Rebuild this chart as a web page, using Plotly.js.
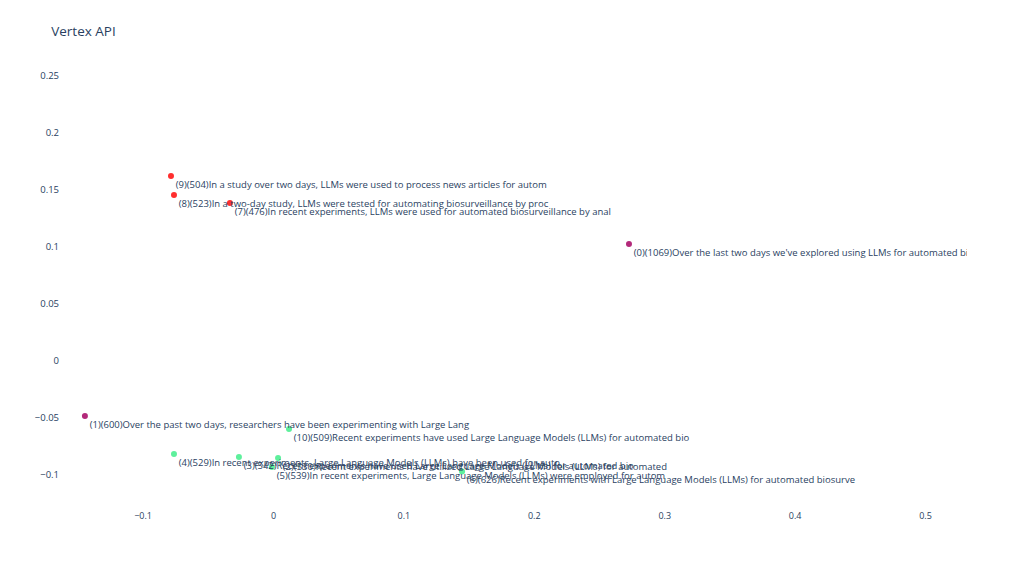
<!DOCTYPE html>
<html>
<head>
<meta charset="utf-8">
<script src="https://cdn.plot.ly/plotly-3.0.1.min.js"></script>
<style>
  html, body { margin: 0; padding: 0; background: white; }
  #myDiv { width: 1024px; height: 571px; }
</style>
</head>
<body>
<div id="myDiv"></div>
<script>
// embedding coordinates
const xs = [0.2726, -0.1446, 0.0035, -0.0265, -0.0763, -0.0012, 0.1446, -0.0334, -0.0763, -0.0786, 0.0119];
const ys = [0.1026, -0.0482, -0.0851, -0.0842, -0.0816, -0.0930, -0.0970, 0.1386, 0.1456, 0.1623, -0.0596];
const lengths = [1069, 600, 530, 542, 529, 539, 626, 476, 523, 504, 509];
const clusters = [0, 0, 1, 1, 1, 1, 1, 2, 2, 2, 1];
const snippets = [
    "Over the last two days we've explored using LLMs for automated biosurveillance",
    "Over the past two days, researchers have been experimenting with Large Language Models",
    "Recent experiments have utilized Large Language Models (LLMs) for automated biosurveillance",
    "Recent experiments have used Large Language Models (LLMs) for automated biosurveillance",
    "In recent experiments, Large Language Models (LLMs) have been used for automated biosurveillance",
    "In recent experiments, Large Language Models (LLMs) were employed for automated biosurveillance",
    "Recent experiments with Large Language Models (LLMs) for automated biosurveillance",
    "In recent experiments, LLMs were used for automated biosurveillance by analyzing",
    "In a two-day study, LLMs were tested for automating biosurveillance by processing",
    "In a study over two days, LLMs were used to process news articles for automated",
    "Recent experiments have used Large Language Models (LLMs) for automated biosurveillance",
];
const clusterColors = ["#b3297a", "#5ef09c", "#ff2e2e"];

const labels = snippets.map((s, i) => `(${i})(${lengths[i]})${s.slice(0, 75)}`);

const data = [{
    type: "scatter",
    mode: "markers+text",
    x: xs,
    y: ys,
    text: labels,
    textposition: "bottom right",
    textfont: { size: 9.5, color: "#2a3f5f" },
    marker: {
        size: 6,
        color: clusters.map((c) => clusterColors[c]),
    },
    hoverinfo: "none",
}];

const layout = {
    width: 1024,
    height: 571,
    title: {
        text: "Vertex API",
        x: 0.05,
        xanchor: "left",
        y: 1 - 31 / 571,
        yanchor: "middle",
        font: { size: 13.5, color: "#2a3f5f" },
    },
    font: { family: '"Open Sans", verdana, arial, sans-serif', size: 9, color: "#2a3f5f" },
    paper_bgcolor: "white",
    plot_bgcolor: "white",
    showlegend: false,
    margin: { l: 60, r: 57, t: 60, b: 62 },
    xaxis: {
        range: [-0.1637, 0.5318],
        showgrid: false,
        zeroline: false,
        showline: false,
        ticks: "",
        dtick: 0.1,
        tickfont: { size: 9 },
    },
    yaxis: {
        range: [-0.1298, 0.2640],
        showgrid: false,
        zeroline: false,
        showline: false,
        ticks: "",
        dtick: 0.05,
        tickfont: { size: 9.5 },
    },
};

Plotly.newPlot("myDiv", data, layout, { displayModeBar: false, staticPlot: true });
</script>
</body>
</html>
